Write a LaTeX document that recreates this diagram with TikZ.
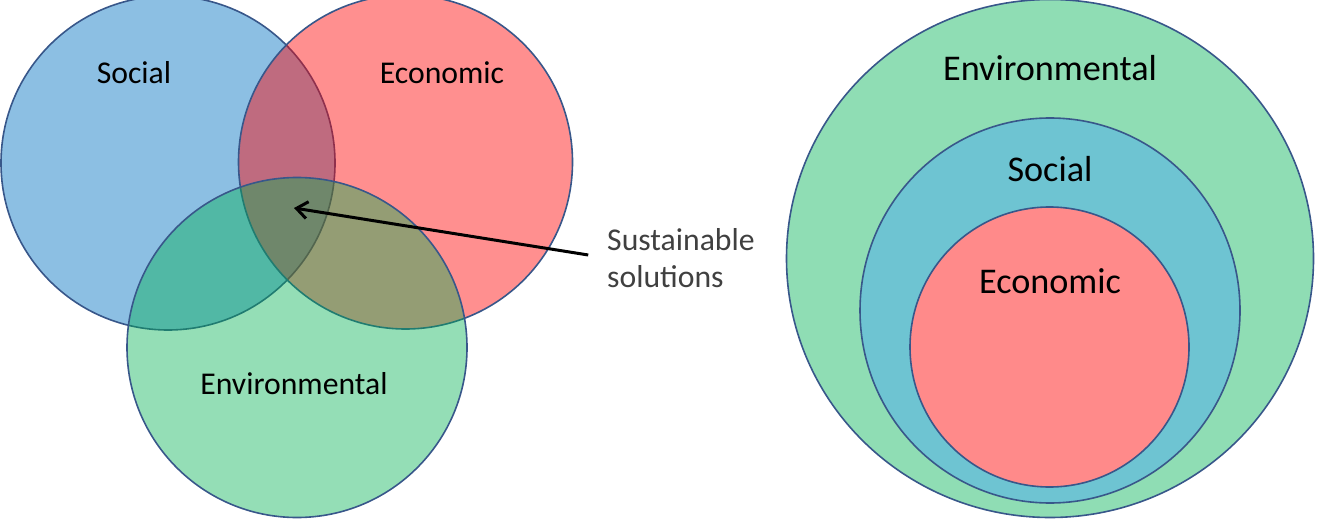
\documentclass[tikz,border=0pt]{standalone}
\usepackage{fontspec}
\setmainfont{Carlito}
\usetikzlibrary{arrows.meta}
\definecolor{ringline}{RGB}{56,87,138}
\definecolor{socblue}{RGB}{0,112,192}
\definecolor{ecored}{RGB}{255,0,0}
\definecolor{envgreen}{RGB}{0,176,80}
\definecolor{envflat}{RGB}{143,221,180}
\definecolor{socflat}{RGB}{110,196,210}
\definecolor{ecoflat}{RGB}{255,138,138}
\definecolor{notegray}{RGB}{64,64,64}
\tikzset{ring/.style = {draw=ringline,line width=1.6pt}}
\tikzset{areaname/.style = {font=\fontsize{31.7}{37}\selectfont,anchor=base,inner sep=0pt}}
\tikzset{bigname/.style = {font=\fontsize{36.2}{42}\selectfont,anchor=base,inner sep=0pt}}
\tikzset{pointer/.style = {-{Straight Barb[length=11pt,width=17pt]},line width=3pt,shorten <=19pt}}

\begin{document}
\begin{tikzpicture}[x=1pt,y=1pt]
    \useasboundingbox (0,0) rectangle (1321,528);

    % three overlapping circles
    \draw[ring,fill=socblue,fill opacity=0.45] (168,365) circle (167);
    \draw[ring,fill=ecored,fill opacity=0.44] (405.5,366) circle (167);
    \draw[ring,fill=envgreen,fill opacity=0.42] (297,180.5) circle (170);

    \node[areaname] (Soc) at (134,444) {Social};
    \node[areaname] (Eco) at (442,444) {Economic};
    \node[areaname] (Env) at (294,134) {Environmental};

    \coordinate (core) at (294,320);
    \node[font=\fontsize{31.7}{37}\selectfont,text=notegray,align=left,anchor=west,inner sep=0pt] (sust) at (607,270) {Sustainable\\solutions};
    \draw[pointer] (sust.west) -- (core);

    % nested circles
    \draw[ring,fill=envflat] (1050,269.5) ellipse [x radius=263.5,y radius=259];
    \draw[ring,fill=socflat] (1050,217.5) ellipse [x radius=190,y radius=192.5];
    \draw[ring,fill=ecoflat] (1049.5,181) ellipse [x radius=139.5,y radius=140];

    \node[bigname] (EnvB) at (1050,447) {Environmental};
    \node[bigname] (SocB) at (1050,346.3) {Social};
    \node[bigname] (EcoB) at (1050,234.7) {Economic};
\end{tikzpicture}
\end{document}
